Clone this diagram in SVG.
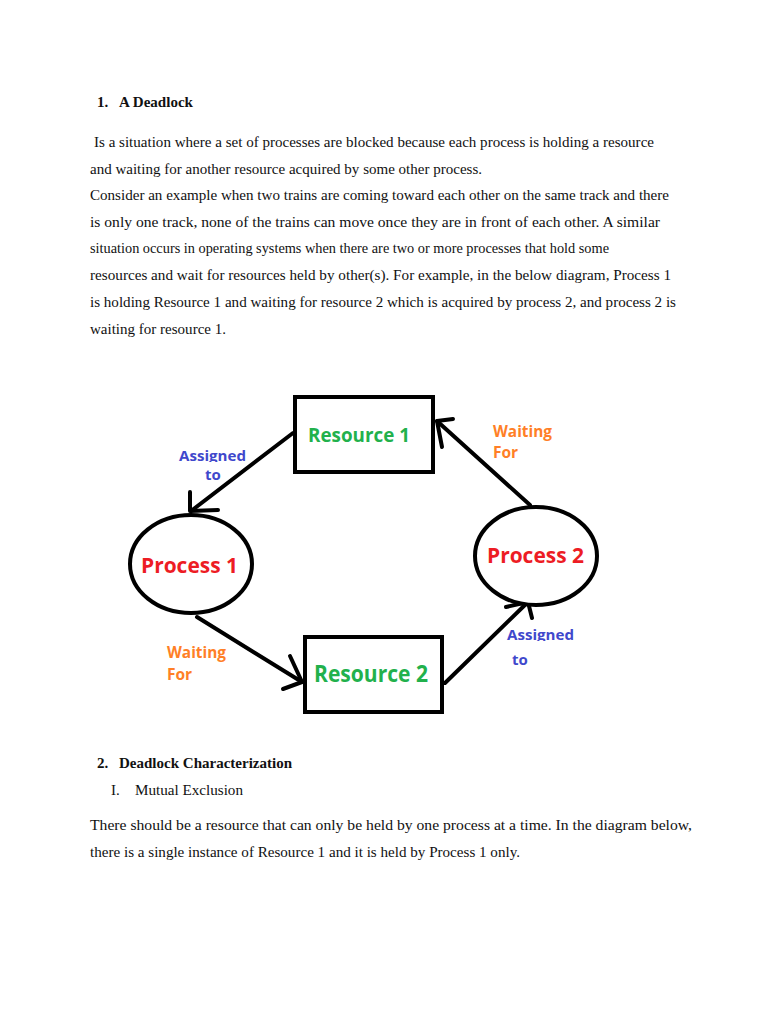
<svg xmlns="http://www.w3.org/2000/svg" width="768" height="1024" viewBox="0 0 768 1024">
<style>
.t{font-family:"Liberation Serif","Times New Roman",serif;font-size:15px;fill:#111}
.b{font-weight:bold}
.node{fill:#fff;stroke:#000;stroke-width:4}
.lbl{font-family:"Open Sans","DejaVu Sans",sans-serif;font-weight:700}
.res{fill:#22b14c;font-size:20px}
.res2{fill:#22b14c;font-size:23px}
.proc{fill:#ed1c24;font-size:22px}
.asg{fill:#3f48cc;font-size:15px}
.wait{fill:#ff7f27;font-size:15.5px}
.edge{fill:none;stroke:#000;stroke-width:4;stroke-linecap:round;stroke-linejoin:round}
</style>
<defs>
<clipPath id="c1"><rect x="170" y="440" width="90" height="22"/></clipPath>
<clipPath id="c2"><rect x="500" y="620" width="90" height="21"/></clipPath>
</defs>
<rect width="768" height="1024" fill="#fff"/>
<g id="text-top">
<text class="t b" x="97" y="107">1.</text>
<text class="t b" x="119" y="107" textLength="74" lengthAdjust="spacingAndGlyphs">A Deadlock</text>
<text class="t" x="94" y="147" textLength="560" lengthAdjust="spacingAndGlyphs">Is a situation where a set of processes are blocked because each process is holding a resource</text>
<text class="t" x="90" y="174" textLength="392" lengthAdjust="spacingAndGlyphs">and waiting for another resource acquired by some other process.</text>
<text class="t" x="90" y="200" textLength="579" lengthAdjust="spacingAndGlyphs">Consider an example when two trains are coming toward each other on the same track and there</text>
<text class="t" x="90" y="227" textLength="570" lengthAdjust="spacingAndGlyphs">is only one track, none of the trains can move once they are in front of each other. A similar</text>
<text class="t" x="90" y="253" textLength="519" lengthAdjust="spacingAndGlyphs">situation occurs in operating systems when there are two or more processes that hold some</text>
<text class="t" x="90" y="280" textLength="581" lengthAdjust="spacingAndGlyphs">resources and wait for resources held by other(s). For example, in the below diagram, Process 1</text>
<text class="t" x="90" y="307" textLength="586" lengthAdjust="spacingAndGlyphs">is holding Resource 1 and waiting for resource 2 which is acquired by process 2, and process 2 is</text>
<text class="t" x="90" y="334" textLength="136" lengthAdjust="spacingAndGlyphs">waiting for resource 1.</text>
</g>
<g id="connectors">
<path class="edge" d="M293 433 L191 511"/>
<path class="edge" d="M190 492 L190 511 L218 510"/>
<path class="edge" d="M530 505 L437 421"/>
<path class="edge" d="M453 419 L437 421 L442 447"/>
<path class="edge" d="M197 617 L302 682"/>
<path class="edge" d="M290 656 L302 682 L283 689"/>
<path class="edge" d="M445 683 L528 602"/>
<path class="edge" d="M506 607 L528 602 L532 618"/>
</g>
<g id="resource1">
<rect class="node" x="295" y="397" width="138" height="75"/>
<text class="lbl res" x="308" y="442" textLength="102" lengthAdjust="spacingAndGlyphs">Resource 1</text>
</g>
<g id="resource2">
<rect class="node" x="305" y="637" width="137" height="75"/>
<text class="lbl res2" x="314" y="682" textLength="114" lengthAdjust="spacingAndGlyphs">Resource 2</text>
</g>
<g id="process1">
<ellipse class="node" cx="191" cy="564" rx="61" ry="49"/>
<text class="lbl proc" x="141" y="573" textLength="97" lengthAdjust="spacingAndGlyphs">Process 1</text>
</g>
<g id="process2">
<ellipse class="node" cx="536" cy="556" rx="61" ry="49"/>
<text class="lbl proc" x="487" y="563" textLength="97" lengthAdjust="spacingAndGlyphs">Process 2</text>
</g>
<g id="labels">
<text class="lbl asg" x="179" y="461" textLength="67" lengthAdjust="spacingAndGlyphs" clip-path="url(#c1)">Assigned</text>
<text class="lbl asg" x="205" y="480">to</text>
<text class="lbl wait" x="493" y="437" textLength="59" lengthAdjust="spacingAndGlyphs">Waiting</text>
<text class="lbl wait" x="493" y="458">For</text>
<text class="lbl wait" x="167" y="658" textLength="59" lengthAdjust="spacingAndGlyphs">Waiting</text>
<text class="lbl wait" x="167" y="680">For</text>
<text class="lbl asg" x="507" y="640" textLength="67" lengthAdjust="spacingAndGlyphs" clip-path="url(#c2)">Assigned</text>
<text class="lbl asg" x="512" y="665">to</text>
</g>
<g id="text-bottom">
<text class="t b" x="97" y="768">2.</text>
<text class="t b" x="119" y="768" textLength="173" lengthAdjust="spacingAndGlyphs">Deadlock Characterization</text>
<text class="t" x="111" y="795">I.</text>
<text class="t" x="135" y="795" textLength="108" lengthAdjust="spacingAndGlyphs">Mutual Exclusion</text>
<text class="t" x="90" y="830" textLength="602" lengthAdjust="spacingAndGlyphs">There should be a resource that can only be held by one process at a time. In the diagram below,</text>
<text class="t" x="90" y="857" textLength="430" lengthAdjust="spacingAndGlyphs">there is a single instance of Resource 1 and it is held by Process 1 only.</text>
</g>
</svg>
